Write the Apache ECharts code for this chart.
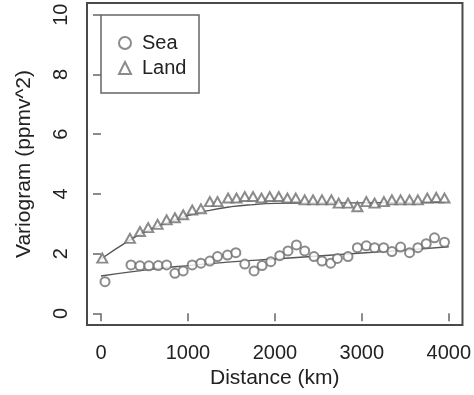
<!DOCTYPE html>
<html>
<head>
<meta charset="utf-8">
<script src="https://cdn.jsdelivr.net/npm/echarts@6/dist/echarts.min.js"></script>
<style>
  html, body { margin: 0; padding: 0; background: #fff; }
  #chart { width: 474px; height: 395px; }
</style>
</head>
<body>
<div id="chart"></div>
<script>
// semivariance estimates (distance in km, ppmv^2)
const landDist = [15, 333, 448, 543, 651, 755, 850, 945, 1049, 1149, 1252, 1340,
  1462, 1559, 1654, 1749, 1846, 1941, 2045, 2144, 2240, 2343, 2439, 2542, 2650,
  2734, 2841, 2949, 3052, 3147, 3254, 3346, 3446, 3549, 3645, 3753, 3856, 3951];
const landGamma = [1.85, 2.51, 2.74, 2.87, 2.98, 3.13, 3.20, 3.30, 3.46, 3.50, 3.74, 3.74,
  3.86, 3.86, 3.91, 3.91, 3.86, 3.91, 3.91, 3.86, 3.86, 3.80, 3.80, 3.80, 3.80,
  3.69, 3.69, 3.57, 3.74, 3.69, 3.74, 3.80, 3.80, 3.80, 3.80, 3.86, 3.88, 3.86];

const seaDist = [46, 345, 448, 551, 658, 755, 850, 945, 1049, 1149, 1252, 1340,
  1455, 1551, 1654, 1761, 1853, 1953, 2056, 2151, 2248, 2343, 2450, 2542, 2642,
  2719, 2841, 2949, 3052, 3147, 3251, 3346, 3446, 3549, 3645, 3741, 3836, 3951];
const seaGamma = [1.06, 1.62, 1.59, 1.59, 1.60, 1.62, 1.34, 1.42, 1.62, 1.68, 1.75, 1.90,
  1.95, 2.03, 1.65, 1.42, 1.60, 1.73, 1.93, 2.09, 2.29, 2.09, 1.90, 1.75, 1.68,
  1.84, 1.90, 2.20, 2.26, 2.20, 2.20, 2.07, 2.22, 2.03, 2.20, 2.33, 2.53, 2.38];

// fitted model curves, read as points along the drawn lines
const landFitDist = [0, 330, 500, 750, 1000, 1250, 1500, 1750, 2000, 2500, 3000, 3500, 3951];
const landFitGamma = [1.82, 2.45, 2.72, 3.02, 3.27, 3.45, 3.57, 3.64, 3.68, 3.70, 3.70, 3.71, 3.71];
const seaFitDist = [0, 500, 1000, 1500, 2000, 2500, 3000, 3500, 4000];
const seaFitGamma = [1.25, 1.45, 1.60, 1.72, 1.82, 1.92, 2.02, 2.12, 2.23];

const xTicks = [0, 1000, 2000, 3000, 4000];
const yTicks = [0, 2, 4, 6, 8, 10];

const font = "'Liberation Sans', Arial, sans-serif";
const zip = (xs, ys) => xs.map((x, i) => [x, ys[i]]);

const chart = echarts.init(document.getElementById('chart'));

const option = {
  animation: false,
  textStyle: { fontFamily: font },
  grid: {
    left: 87, right: 11, top: 3, bottom: 70,
    show: true, borderColor: '#4a4a4a', borderWidth: 2
  },
  xAxis: {
    type: 'value',
    min: -161, max: 4158,
    name: 'Distance (km)',
    nameLocation: 'middle',
    nameGap: 40,
    nameTextStyle: { fontSize: 21, color: '#222', fontFamily: font },
    axisLine: { show: false },
    splitLine: { show: false },
    axisTick: { show: true, length: 8, customValues: xTicks, lineStyle: { color: '#666', width: 1.5 } },
    axisLabel: {
      customValues: xTicks, fontSize: 20, color: '#222', margin: 18, fontFamily: font,
      formatter: v => String(v)
    }
  },
  yAxis: {
    type: 'value',
    min: -0.39, max: 10.39,
    name: 'Variogram (ppmv^2)',
    nameLocation: 'middle',
    nameRotate: 90,
    nameGap: 52,
    nameTextStyle: { fontSize: 21, color: '#222', fontFamily: font },
    axisLine: { show: false },
    splitLine: { show: false },
    axisTick: { show: true, length: 8, customValues: yTicks, lineStyle: { color: '#666', width: 1.5 } },
    axisLabel: {
      customValues: yTicks, rotate: 90, fontSize: 20, color: '#222', margin: 16, fontFamily: font,
      formatter: v => String(v)
    }
  },
  legend: {
    data: ['Sea', 'Land'],
    orient: 'vertical',
    left: 113, top: 28,
    itemWidth: 12, itemHeight: 12,
    itemGap: 5,
    textStyle: { fontSize: 20, color: '#222', lineHeight: 20, padding: [0, 0, 0, 6], fontFamily: font }
  },
  graphic: [{
    type: 'rect',
    shape: { x: 101, y: 15, width: 98, height: 78 },
    style: { fill: 'none', stroke: '#666', lineWidth: 1.5 },
    z: 10
  }],
  series: [
    {
      name: 'Land fit', type: 'line', smooth: true, showSymbol: false,
      data: zip(landFitDist, landFitGamma),
      lineStyle: { color: '#555', width: 1.3 }, z: 1
    },
    {
      name: 'Sea fit', type: 'line', smooth: true, showSymbol: false,
      data: zip(seaFitDist, seaFitGamma),
      lineStyle: { color: '#555', width: 1.3 }, z: 1
    },
    {
      name: 'Sea', type: 'scatter', symbol: 'emptyCircle', symbolSize: 9,
      data: zip(seaDist, seaGamma),
      itemStyle: { color: '#6e6e6e', borderWidth: 1.3 }, z: 2
    },
    {
      name: 'Land', type: 'scatter', symbol: 'emptyTriangle', symbolSize: [10, 9],
      data: zip(landDist, landGamma),
      itemStyle: { color: '#6e6e6e', borderWidth: 1.3 }, z: 2
    }
  ]
};

chart.setOption(option);
</script>
</body>
</html>
